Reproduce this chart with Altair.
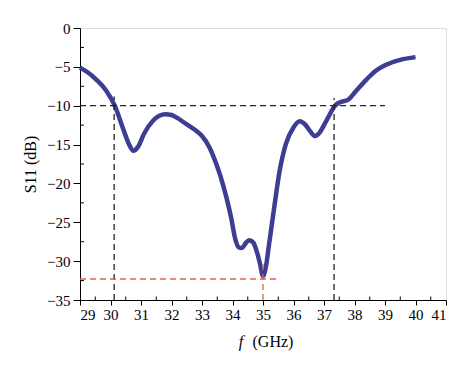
import altair as alt
import pandas as pd

# Main S11 curve (GHz, dB)
freq = [29.0, 29.25, 29.55, 29.85, 30.14, 30.4, 30.6, 30.75, 30.9, 31.1, 31.4, 31.6, 31.8,
        32.0, 32.2, 32.5, 32.8, 33.0, 33.25, 33.45, 33.6, 33.8, 33.95, 34.1, 34.2, 34.3,
        34.45, 34.55, 34.68, 34.8, 34.9, 35.0, 35.1, 35.2, 35.35, 35.55, 35.75, 36.0,
        36.2, 36.4, 36.55, 36.7, 36.85, 37.0, 37.15, 37.36, 37.5, 37.8, 38.05, 38.4,
        38.7, 39.0, 39.5, 40.0]
s11 = [-5.1, -5.7, -6.7, -8.0, -10.0, -12.8, -14.9, -15.8, -15.3, -13.6, -11.9, -11.3, -11.1,
       -11.2, -11.6, -12.4, -13.2, -13.9, -15.4, -17.3, -19.0, -21.8, -24.3, -27.3, -28.2, -28.3,
       -27.6, -27.3, -27.6, -28.8, -30.3, -31.9, -30.6, -27.8, -23.6, -18.3, -14.9, -12.8,
       -12.0, -12.5, -13.3, -13.9, -13.5, -12.5, -11.4, -10.0, -9.6, -9.2, -8.1, -6.6,
       -5.5, -4.8, -4.1, -3.75]

# Reference dashed lines
h_y = [-10.0]
h_x1 = [29.0]
h_x2 = [39.0]
v_x = [30.12, 37.33]
v_y1 = [-35.0, -35.0]
v_y2 = [-8.8, -9.0]

r_h_y = [-32.3]
r_h_x1 = [29.0]
r_h_x2 = [35.55]
r_v_x = [35.0]
r_v_y1 = [-35.0]
r_v_y2 = [-30.4]

x_ticks = list(range(29, 42))
y_ticks = [0, -5, -10, -15, -20, -25, -30, -35]
x_minor = [29.5 + i for i in range(12)]
y_minor = [-2.5 - 5 * i for i in range(7)]

curve = pd.DataFrame({"x": freq, "y": s11})
hl = pd.DataFrame({"x": h_x1, "x2": h_x2, "y": h_y})
vl = pd.DataFrame({"x": v_x, "y": v_y1, "y2": v_y2})
rhl = pd.DataFrame({"x": r_h_x1, "x2": r_h_x2, "y": r_h_y})
rvl = pd.DataFrame({"x": r_v_x, "y": r_v_y1, "y2": r_v_y2})
xm = pd.DataFrame({"x": x_minor, "y": [-35.0] * len(x_minor), "y2": [-34.55] * len(x_minor)})
ym = pd.DataFrame({"y": y_minor, "x": [29.0] * len(y_minor), "x2": [29.13] * len(y_minor)})

FONT = "Liberation Serif"
W, H = 366, 272

xs = alt.Scale(domain=[29, 41], nice=False, zero=False)
ys = alt.Scale(domain=[-35, 0], nice=False, zero=False)

x_axis = alt.Axis(values=x_ticks, format="d", title="(GHz)", grid=False, labelOverlap=False,
                  tickSize=5, tickColor="black", domainColor="black",
                  labelFont=FONT, labelFontSize=15, labelColor="black", labelPadding=2,
                  titleFont=FONT, titleFontSize=16, titleFontWeight="normal", titleColor="black",
                  titleX=172, titleAlign="left", titlePadding=11)
y_axis = alt.Axis(values=y_ticks, format="d", title="S11 (dB)", grid=False, labelOverlap=False,
                  tickSize=7, tickColor="black", domainColor="black",
                  labelFont=FONT, labelFontSize=15, labelColor="black", labelPadding=3,
                  titleFont=FONT, titleFontSize=16, titleFontWeight="normal", titleColor="black",
                  titlePadding=8)


def X(f):
    return alt.X(f, scale=xs, axis=x_axis)


def Y(f):
    return alt.Y(f, scale=ys, axis=y_axis)


line = alt.Chart(curve).mark_line(color="#3d3d92", strokeWidth=4.5, interpolate="monotone").encode(
    x=X("x:Q"), y=Y("y:Q"))

dash_k = [6, 4]
h_black = alt.Chart(hl).mark_rule(color="#222222", strokeWidth=1.3, strokeDash=dash_k).encode(
    x=X("x:Q"), x2="x2:Q", y=Y("y:Q"))
v_black = alt.Chart(vl).mark_rule(color="#222222", strokeWidth=1.3, strokeDash=dash_k).encode(
    x=X("x:Q"), y=Y("y:Q"), y2="y2:Q")
h_red = alt.Chart(rhl).mark_rule(color="#e8604a", strokeWidth=1.3, strokeDash=dash_k).encode(
    x=X("x:Q"), x2="x2:Q", y=Y("y:Q"))
v_red = alt.Chart(rvl).mark_rule(color="#e8604a", strokeWidth=1.3, strokeDash=dash_k).encode(
    x=X("x:Q"), y=Y("y:Q"), y2="y2:Q")

x_minor_ticks = alt.Chart(xm).mark_rule(color="black", strokeWidth=1).encode(
    x=X("x:Q"), y=Y("y:Q"), y2="y2:Q")
y_minor_ticks = alt.Chart(ym).mark_rule(color="black", strokeWidth=1).encode(
    y=Y("y:Q"), x=X("x:Q"), x2="x2:Q")

f_label = alt.Chart(pd.DataFrame({"t": ["f"]})).mark_text(
    font=FONT, fontSize=16, fontStyle="italic", color="black", align="center", baseline="middle"
).encode(text="t:N", x=alt.value(161), y=alt.value(H + 42))

chart = alt.layer(
    line, x_minor_ticks, y_minor_ticks, h_black, v_black, h_red, v_red, f_label
).properties(
    width=W, height=H,
    padding={"left": 72, "top": 20, "right": 20, "bottom": 63},
    autosize=alt.AutoSizeParams(type="none"),
).configure_view(strokeWidth=0).configure(background="white")

chart.save("out.html", embed_options={"renderer": "svg", "actions": False})
